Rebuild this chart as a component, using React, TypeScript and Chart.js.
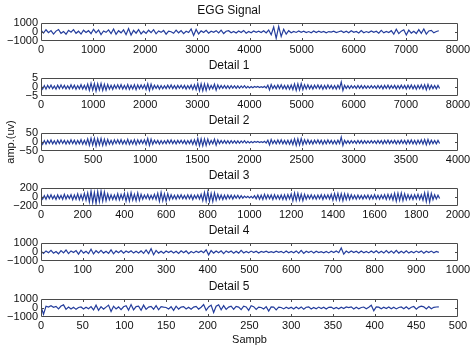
import { useEffect, useRef } from "react";
import { Chart, registerables } from "chart.js";

Chart.register(...registerables);

// ---- data (approximated) ----
const eggSignal = [
  200, -120, 250, -80, 150, -230, 100, 280, -150, 60, -250, 180, -30, 260, -140, 90, -230, 200, -60, 150,
  -180, 300, -90, 220, -280, 110, -40, 240, -170, 330, -260, 140, -90, 230, -300, 380, -330, 180, -130, 270,
  -210, 90, -150, 200, -70, 260, -200, 120, -40, 170, -240, 90, 30, -140, 210, -90, 150, -180, 80, -60,
  340, -380, 280, -220, 120, -60, 180, -140, 90, -30, 150, -110, 210, -170, 80, 140, -90, 50, -120, 110,
  -50, 170, -140, 60, -80, 120, -30, 90, -60, 140, -110, 220, -300, 560, -700, 620, -500, 300, -240, 140,
  -90, 60, -50, 110, -30, 80, -60, 50, -90, 120, -50, 90, -30, 60, -80, 50, -20, 90, -60, 30,
  110, -50, 80, -90, 140, -30, 60, -110, 170, -80, 50, -60, 120, -30, 90, -140, 180, -90, 60, -50,
  150, -240, 300, -180, 90, 240, -330, 210, -120, 80, -170, 270, -140, 330, -230, 120, 180, -90, 50, 140,
];

const detail1 = [
  1.0, -1.1, 0.8, -1.2, 0.9, -0.7, 1.1, -1.0, 0.6, -1.2, 1.0, -0.9, 1.2, -0.8, 0.9, -1.1, 0.7, -1.0, 1.2, -0.9,
  1.0, -1.2, 0.8, -1.0, 1.3, -1.1, 0.9, -1.4, 1.6, -1.8, 2.1, -1.7, 1.9, -2.2, 1.8, -1.6, 2.0, -1.9, 1.5, -1.7,
  1.4, -1.2, 1.0, -1.3, 1.1, -0.9, 1.2, -1.0, 1.3, -1.1, 0.9, -1.2, 1.4, -1.3, 1.0, -1.1, 1.3, -1.5, 1.2, -1.0,
  1.1, -0.9, 1.2, -1.4, 1.8, -1.9, 1.6, -1.3, 1.0, -0.8, 0.9, -1.1, 0.8, -1.0, 0.7, -0.9, 1.0, -0.8, 1.1, -0.9,
  0.8, -1.0, 0.9, -0.7, 1.0, -0.8, 0.9, -1.1, 0.8, -0.9, 1.1, -1.3, 1.2, -1.5, 1.9, -2.0, 1.8, -2.1, 1.7, -1.9,
  1.6, -1.3, 0.9, -1.0, 1.5, -1.8, 1.2, -0.9, 0.8, -0.7, 0.9, -0.8, 0.7, -0.9, 0.8, -0.6, 0.7, -0.8, 0.6, -0.7,
  0.6, -0.5, 0.7, -0.6, 0.4, -0.5, 0.3, -0.4, 0.3, -0.2, 0.3, -0.3, 0.2, -0.3, 0.4, -0.6, 1.0, -1.6, 1.4, -0.9,
  0.8, -1.0, 1.1, -0.9, 1.2, -1.0, 0.9, -1.1, 1.0, -1.2, 1.1, -1.4, 1.7, -1.9, 1.8, -1.6, 1.9, -1.5, 1.3, -1.1,
  1.2, -1.0, 0.9, -1.1, 1.0, -0.8, 1.1, -0.9, 1.0, -1.2, 0.9, -1.0, 1.1, -0.8, 0.9, -1.0, 0.8, -1.1, 1.0, -0.9,
  2.8, -1.9, 1.0, -0.8, 0.7, -0.9, 0.8, -0.6, 0.7, -0.8, 0.9, -0.7, 0.8, -0.9, 0.7, -0.8, 0.6, -0.7, 0.8, -0.6,
  0.7, -0.8, 0.9, -0.7, 0.8, -1.0, 0.9, -0.8, 1.0, -0.9, 0.8, -0.7, 0.9, -1.0, 0.8, -0.9, 1.0, -0.8, 0.9, -1.1,
  1.0, -0.9, 1.1, -1.0, 0.9, -1.2, 1.0, -0.9, 1.2, -1.1, 1.3, -1.5, 1.4, -1.2, 1.0, -0.9, 0.8, -1.0, 0.9, -0.8,
];

const detail2 = [
  10, -12, 8, -11, 9, -8, 11, -10, 7, -12, 10, -9, 12, -8, 9, -11, 8, -10, 12, -9,
  10, -12, 9, -10, 13, -12, 9, -14, 17, -18, 21, -17, 20, -22, 18, -16, 20, -19, 15, -17,
  14, -12, 10, -13, 12, -9, 12, -10, 13, -11, 9, -12, 15, -13, 10, -11, 13, -15, 12, -10,
  11, -9, 12, -14, 19, -19, 16, -13, 10, -8, 9, -11, 8, -10, 7, -9, 10, -8, 11, -9,
  8, -10, 9, -7, 10, -8, 9, -11, 8, -9, 11, -13, 12, -16, 19, -20, 18, -21, 17, -19,
  16, -13, 9, -10, 15, -18, 12, -9, 8, -7, 9, -8, 7, -9, 8, -6, 7, -8, 6, -7,
  6, -5, 7, -6, 4, -5, 3, -4, 3, -2, 3, -3, 2, -3, 4, -6, 10, -16, 14, -9,
  8, -10, 11, -9, 12, -10, 9, -11, 10, -12, 11, -14, 17, -19, 18, -16, 19, -15, 13, -11,
  12, -10, 9, -11, 10, -8, 11, -9, 10, -12, 9, -10, 11, -8, 9, -10, 8, -11, 10, -9,
  27, -19, 10, -8, 7, -9, 8, -6, 7, -8, 9, -7, 8, -9, 7, -8, 6, -7, 8, -6,
  7, -8, 9, -7, 8, -10, 9, -8, 10, -9, 8, -7, 9, -10, 8, -9, 10, -8, 9, -11,
  10, -9, 11, -10, 9, -12, 10, -9, 12, -11, 14, -15, 14, -12, 10, -9, 8, -10, 9, -8,
];

const detail3 = [
  40, -45, 30, -50, 45, -35, 50, -40, 30, -55, 45, -40, 35, -50, 60, -45, 40, -35, 50, -60,
  45, -55, 70, -60, 50, -65, 80, -70, 90, -110, 130, -120, 100, -140, 120, -100, 130, -90, 110, -80,
  70, -60, 50, -55, 45, -60, 70, -65, 55, -50, 80, -90, 75, -85, 95, -70, 60, -80, 90, -75,
  60, -50, 45, -40, 55, -50, 40, -45, 60, -55, 80, -95, 100, -85, 70, -90, 75, -60, 50, -45,
  40, -50, 45, -35, 50, -40, 35, -45, 50, -40, 45, -55, 40, -35, 50, -45, 60, -80, 100, -90,
  110, -95, 80, -100, 90, -70, 60, -50, 45, -55, 40, -50, 45, -35, 40, -45, 35, -30, 40, -35,
  30, -25, 20, -15, 15, -20, 15, -25, 30, -40, 45, -50, 40, -55, 60, -45, 50, -40, 45, -55,
  50, -45, 40, -50, 45, -55, 50, -60, 55, -45, 70, -85, 90, -75, 80, -70, 65, -80, 60, -50,
  45, -40, 50, -45, 40, -50, 45, -40, 50, -55, 45, -40, 50, -45, 60, -70, 75, -65, 80, -70,
  75, -80, 70, -60, 65, -55, 50, -45, 40, -50, 45, -40, 35, -45, 40, -35, 45, -50, 40, -45,
  50, -45, 40, -50, 45, -40, 50, -55, 60, -50, 55, -65, 80, -90, 85, -75, 90, -80, 70, -60,
  55, -50, 45, -55, 50, -45, 60, -55, 50, -70, 90, -100, 95, -110, 80, -60, 50, -45, 40, -35,
];

const detail4 = [
  100, -160, 120, -80, 180, -140, 60, -200, 160, -100, 220, -180, 120, -60, 160, -240, 200, -120, 80, -180,
  300, -220, 140, -100, 180, -120, 80, -160, 240, -200, 120, -80, 160, -140, 100, -60, 140, -120, 80, -100,
  120, -160, 220, -180, 360, -300, 180, -120, 80, -140, 100, -60, 120, -100, 80, -160, 140, -80, 120, -180,
  60, -100, 80, -60, 120, -80, 240, -320, 160, -120, 100, -80, 140, -180, 120, -60, 100, -140, 80, -120,
  180, -100, 60, -80, 100, -60, 80, -120, 60, -40, 80, -60, 40, -60, 80, -40, 60, -100, 120, -80,
  60, -80, 120, -140, 180, -160, 80, -60, 100, -120, 80, -60, 40, -80, 60, -100, 80, -60, 120, -80,
  450, -240, 100, -80, 120, -60, 80, -120, 100, -80, 60, -100, 120, -80, 140, -100, 80, -120, 160, -100,
  120, -140, 180, -120, 80, -100, 140, -120, 60, -80, 100, -60, 120, -140, 80, -60, 100, -80, 60, -40,
];

const detail5 = [
  150, -700, 200, 100, 250, 80, 180, -100, 220, 350, -150, 100, -120, 80, -150, 60, 120, -100, 90, -80,
  150, -220, 320, -260, 150, -120, 100, 320, -380, 200, -100, 120, -180, 140, 260, -240, 380, -200, 150, 200,
  -260, 320, -150, 100, 180, -140, 260, -200, 150, 100, 60, -100, 140, -260, 200, -120, 100, 150, -100, 80,
  -140, 100, 180, -120, 80, 380, -260, 120, 320, -500, 200, 350, -200, 260, -150, 100, 200, -140, 180, 100,
  -180, 200, 120, -260, 260, 150, -150, 100, 60, -100, 150, -350, 120, 100, -200, 100, 60, -100, 80, -60,
  90, -120, 100, -80, 120, -140, 80, 130, -100, 60, -80, 100, -60, 90, -120, 80, 100, -80, 60, -90,
  90, -60, 110, 40, 130, -100, 80, -90, 60, 110, -80, 90, 300, -300, 120, 90, -90, 80, -60, 110,
  -80, 90, -100, 60, 110, -90, 130, -110, 80, 170, -130, 100, 200, 130, -110, 150, -90, 80, 110, 130,
];

const seriesList = [eggSignal, detail1, detail2, detail3, detail4, detail5];
const sampleSteps = [48, 32, 16, 8, 6, 3];
const panelTitles = ["EGG Signal", "Detail 1", "Detail 2", "Detail 3", "Detail 4", "Detail 5"];
const yLimits = [1000, 5, 50, 200, 1000, 1000];
const xMaxes = [8000, 8000, 4000, 2000, 1000, 500];
const xTickSteps = [1000, 1000, 500, 200, 100, 50];
const yAxisLabel = "amp.(uv)";
const xAxisLabel = "Sampb";

// ---- layout ----
const BOX_TOPS = [23, 78, 133, 188, 243, 299];
const BOX_H = 18;
const TITLE_H = 22;
const XAXIS_H = 18;
const LAST_XAXIS_H = 36;
const LEFT = 41;
const RIGHT_PAD = 16;
const W = 474;
const LINE_COLOR = "#243d9c";
const BOX_COLOR = "#4a4a4a";
const FONT = "'Liberation Sans', Arial, Helvetica, sans-serif";

const fmt = (v: number) => (v < 0 ? "\u2212" + Math.abs(v) : String(v));

const boxPlugin = {
  id: "matlabBox",
  afterDatasetsDraw(chart: any) {
    const { ctx, chartArea } = chart;
    const { left, right, top, bottom } = chartArea;
    ctx.save();
    ctx.strokeStyle = BOX_COLOR;
    ctx.lineWidth = 1;
    ctx.beginPath();
    ctx.rect(Math.round(left) + 0.5, Math.round(top) + 0.5, Math.round(right - left) - 1, Math.round(bottom - top) - 1);
    ctx.stroke();
    const tl = 3;
    const xs = chart.scales.x;
    ctx.beginPath();
    xs.ticks.forEach((t: any) => {
      const px = Math.round(xs.getPixelForValue(t.value)) + 0.5;
      if (px <= left + 1 || px >= right - 1) return;
      ctx.moveTo(px, bottom);
      ctx.lineTo(px, bottom - tl);
      ctx.moveTo(px, top);
      ctx.lineTo(px, top + tl);
    });
    const ys = chart.scales.y;
    ys.ticks.forEach((t: any) => {
      const py = Math.round(ys.getPixelForValue(t.value)) + 0.5;
      if (py <= top + 1 || py >= bottom - 1) return;
      ctx.moveTo(left, py);
      ctx.lineTo(left + tl, py);
      ctx.moveTo(right, py);
      ctx.lineTo(right - tl, py);
    });
    ctx.stroke();
    ctx.restore();
  },
};

function Panel({ idx }: { idx: number }) {
  const ref = useRef<HTMLCanvasElement | null>(null);
  const isLast = idx === seriesList.length - 1;
  const xH = isLast ? LAST_XAXIS_H : XAXIS_H;
  const H = TITLE_H + BOX_H + xH;
  const top = BOX_TOPS[idx] - TITLE_H;

  useEffect(() => {
    if (!ref.current) return;
    const step = sampleSteps[idx];
    const data = seriesList[idx].map((v, i) => ({ x: i * step, y: v }));
    const lim = yLimits[idx];
    const chart = new Chart(ref.current, {
      type: "line",
      data: {
        datasets: [
          {
            data,
            borderColor: LINE_COLOR,
            borderWidth: 1.2,
            pointRadius: 0,
            tension: 0,
            fill: false,
          },
        ],
      },
      plugins: [boxPlugin],
      options: {
        animation: false,
        responsive: false,
        devicePixelRatio: 1,
        events: [],
        layout: { padding: { top: 0, right: RIGHT_PAD, bottom: 0, left: 0 } },
        plugins: {
          legend: { display: false },
          tooltip: { enabled: false },
          title: {
            display: true,
            text: panelTitles[idx],
            color: "#111",
            font: { family: FONT, size: 12, weight: "normal", lineHeight: 14 / 12 },
            padding: { top: 3, bottom: 5 },
          },
        },
        scales: {
          x: {
            type: "linear",
            min: 0,
            max: xMaxes[idx],
            grid: { display: false, drawTicks: false },
            border: { display: false },
            ticks: {
              stepSize: xTickSteps[idx],
              color: "#111",
              padding: 2,
              maxRotation: 0,
              autoSkip: false,
              font: { family: FONT, size: 11 },
              callback: (v: any) => fmt(Number(v)),
            },
            title: isLast
              ? {
                  display: true,
                  text: xAxisLabel,
                  color: "#111",
                  font: { family: FONT, size: 11 },
                  padding: { top: 0, bottom: 6 },
                }
              : { display: false },
            afterFit: (s: any) => {
              s.height = xH;
            },
          },
          y: {
            min: -lim,
            max: lim,
            grid: { display: false, drawTicks: false },
            border: { display: false },
            ticks: {
              stepSize: lim,
              color: "#111",
              padding: 3,
              autoSkip: false,
              font: { family: FONT, size: 11 },
              callback: (v: any) => fmt(Number(v)),
            },
            title:
              idx === 2
                ? {
                    display: true,
                    text: yAxisLabel,
                    color: "#111",
                    font: { family: FONT, size: 11 },
                    padding: { top: 4, bottom: 0 },
                  }
                : { display: false },
            afterFit: (s: any) => {
              s.width = LEFT;
            },
          },
        },
      } as any,
    });
    return () => chart.destroy();
  }, [idx]);

  return (
    <canvas
      ref={ref}
      width={W}
      height={H}
      style={{ position: "absolute", left: 0, top, width: W, height: H, display: "block" }}
    />
  );
}

export default function App() {
  return (
    <div
      style={{
        position: "fixed",
        left: 0,
        top: 0,
        width: W,
        height: 358,
        background: "#fff",
        overflow: "hidden",
      }}
    >
      {seriesList.map((_, i) => (
        <Panel key={i} idx={i} />
      ))}
    </div>
  );
}
